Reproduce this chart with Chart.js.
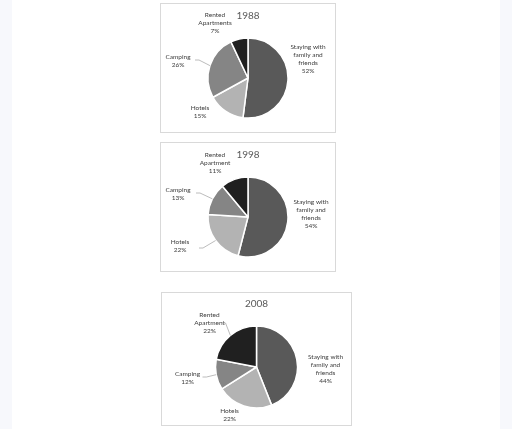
<!DOCTYPE html>
<html>
<head>
<meta charset="utf-8">
<script src="https://cdn.jsdelivr.net/npm/chart.js@4/dist/chart.umd.min.js"></script>
<style>
  html, body { margin: 0; padding: 0; }
  body { width: 512px; height: 429px; background: #f7f8fc; position: relative; overflow: hidden; }
  .page { position: absolute; left: 12px; top: 0; width: 488px; height: 429px; background: #fff; }
  .box { position: absolute; box-sizing: border-box; border: 1px solid #d9d9d9; background: #fff; }
  .box canvas { display: block; }
</style>
</head>
<body>
<div class="page"></div>
<div class="box" id="box1988" style="left:160px; top:3px; width:176px; height:130px;"><canvas id="c1988" width="174" height="128"></canvas></div>
<div class="box" id="box1998" style="left:160px; top:142px; width:176px; height:130px;"><canvas id="c1998" width="174" height="128"></canvas></div>
<div class="box" id="box2008" style="left:161px; top:292px; width:191px; height:134px;"><canvas id="c2008" width="189" height="132"></canvas></div>
<script>
// data, slice order clockwise from 12 o'clock
const years = ['1988', '1998', '2008'];
const categories1988 = [['Staying with', 'family and', 'friends'], ['Hotels'], ['Camping'], ['Rented', 'Apartments']];
const categories1998 = [['Staying with', 'family and', 'friends'], ['Hotels'], ['Camping'], ['Rented', 'Apartment']];
const categories2008 = [['Staying with', 'family and', 'friends'], ['Hotels'], ['Camping'], ['Rented', 'Apartment']];
const values1988 = [52, 15, 26, 7];
const values1998 = [54, 22, 13, 11];
const values2008 = [44, 22, 12, 22];

const sliceColors = ['#595959', '#b3b3b3', '#858585', '#202020'];

// label placement relative to the pie centre (text block centre, optional leader start)
const labelLayout = {
    '1988': [
        { dx: 60, dy: -19 },
        { dx: -48, dy: 34 },
        { dx: -70, dy: -17, lead: [-53, -18] },
        { dx: -33, dy: -55 }
    ],
    '1998': [
        { dx: 63, dy: -3 },
        { dx: -68, dy: 29, lead: [-49, 31] },
        { dx: -70, dy: -23, lead: [-52, -24] },
        { dx: -33, dy: -54 }
    ],
    '2008': [
        { dx: 69, dy: 2 },
        { dx: -27, dy: 48 },
        { dx: -69, dy: 11, lead: [-54, 10] },
        { dx: -47, dy: -44, lead: [-35, -44] }
    ]
};

const sliceLabels = {
    id: 'sliceLabels',
    afterDatasetsDraw(chart, args, opts) {
        const ctx = chart.ctx;
        const meta = chart.getDatasetMeta(0);
        const data = chart.data.datasets[0].data;
        const layout = labelLayout[opts.year];
        ctx.save();
        ctx.font = '6.5px Lato';
        ctx.fillStyle = '#404040';
        ctx.textAlign = 'center';
        ctx.textBaseline = 'middle';
        meta.data.forEach((arc, i) => {
            const p = arc.getProps(['x', 'y', 'startAngle', 'endAngle', 'outerRadius'], true);
            const l = layout[i];
            const lines = [].concat(chart.data.labels[i], data[i] + '%');
            const lh = 8;
            const top = p.y + l.dy - (lines.length - 1) * lh / 2;
            lines.forEach((t, k) => ctx.fillText(t, p.x + l.dx, top + k * lh));
            if (l.lead) {
                const mid = (p.startAngle + p.endAngle) / 2;
                const ex = p.x + Math.cos(mid) * p.outerRadius;
                const ey = p.y + Math.sin(mid) * p.outerRadius;
                const sx = p.x + l.lead[0];
                const sy = p.y + l.lead[1];
                ctx.beginPath();
                ctx.strokeStyle = '#a6a6a6';
                ctx.lineWidth = 0.75;
                ctx.moveTo(sx, sy);
                ctx.lineTo(sx + 4, sy);
                ctx.lineTo(ex, ey);
                ctx.stroke();
            }
        });
        ctx.restore();
    }
};

function makePie(year, labels, values, radius, titleTop, bottomPad) {
    const ctx = document.getElementById('c' + year).getContext('2d');
    return new Chart(ctx, {
        type: 'pie',
        data: {
            labels: labels,
            datasets: [{
                data: values,
                backgroundColor: sliceColors,
                borderColor: '#ffffff',
                borderWidth: 1.5,
                radius: radius
            }]
        },
        options: {
            responsive: false,
            animation: false,
            events: [],
            layout: { padding: { top: 0, left: 0, right: 0, bottom: bottomPad } },
            plugins: {
                legend: { display: false },
                tooltip: { enabled: false },
                title: {
                    display: true,
                    text: year,
                    color: '#595959',
                    font: { family: 'Lato', size: 10, weight: 'normal' },
                    padding: { top: titleTop, bottom: 4 }
                },
                sliceLabels: { year: year }
            }
        },
        plugins: [sliceLabels]
    });
}

makePie('1988', categories1988, values1988, 40, 6.2, 2.2);
makePie('1998', categories1998, values1998, 40, 6.2, 2.2);
makePie('2008', categories2008, values2008, 41, 5, 5);
</script>
</body>
</html>
